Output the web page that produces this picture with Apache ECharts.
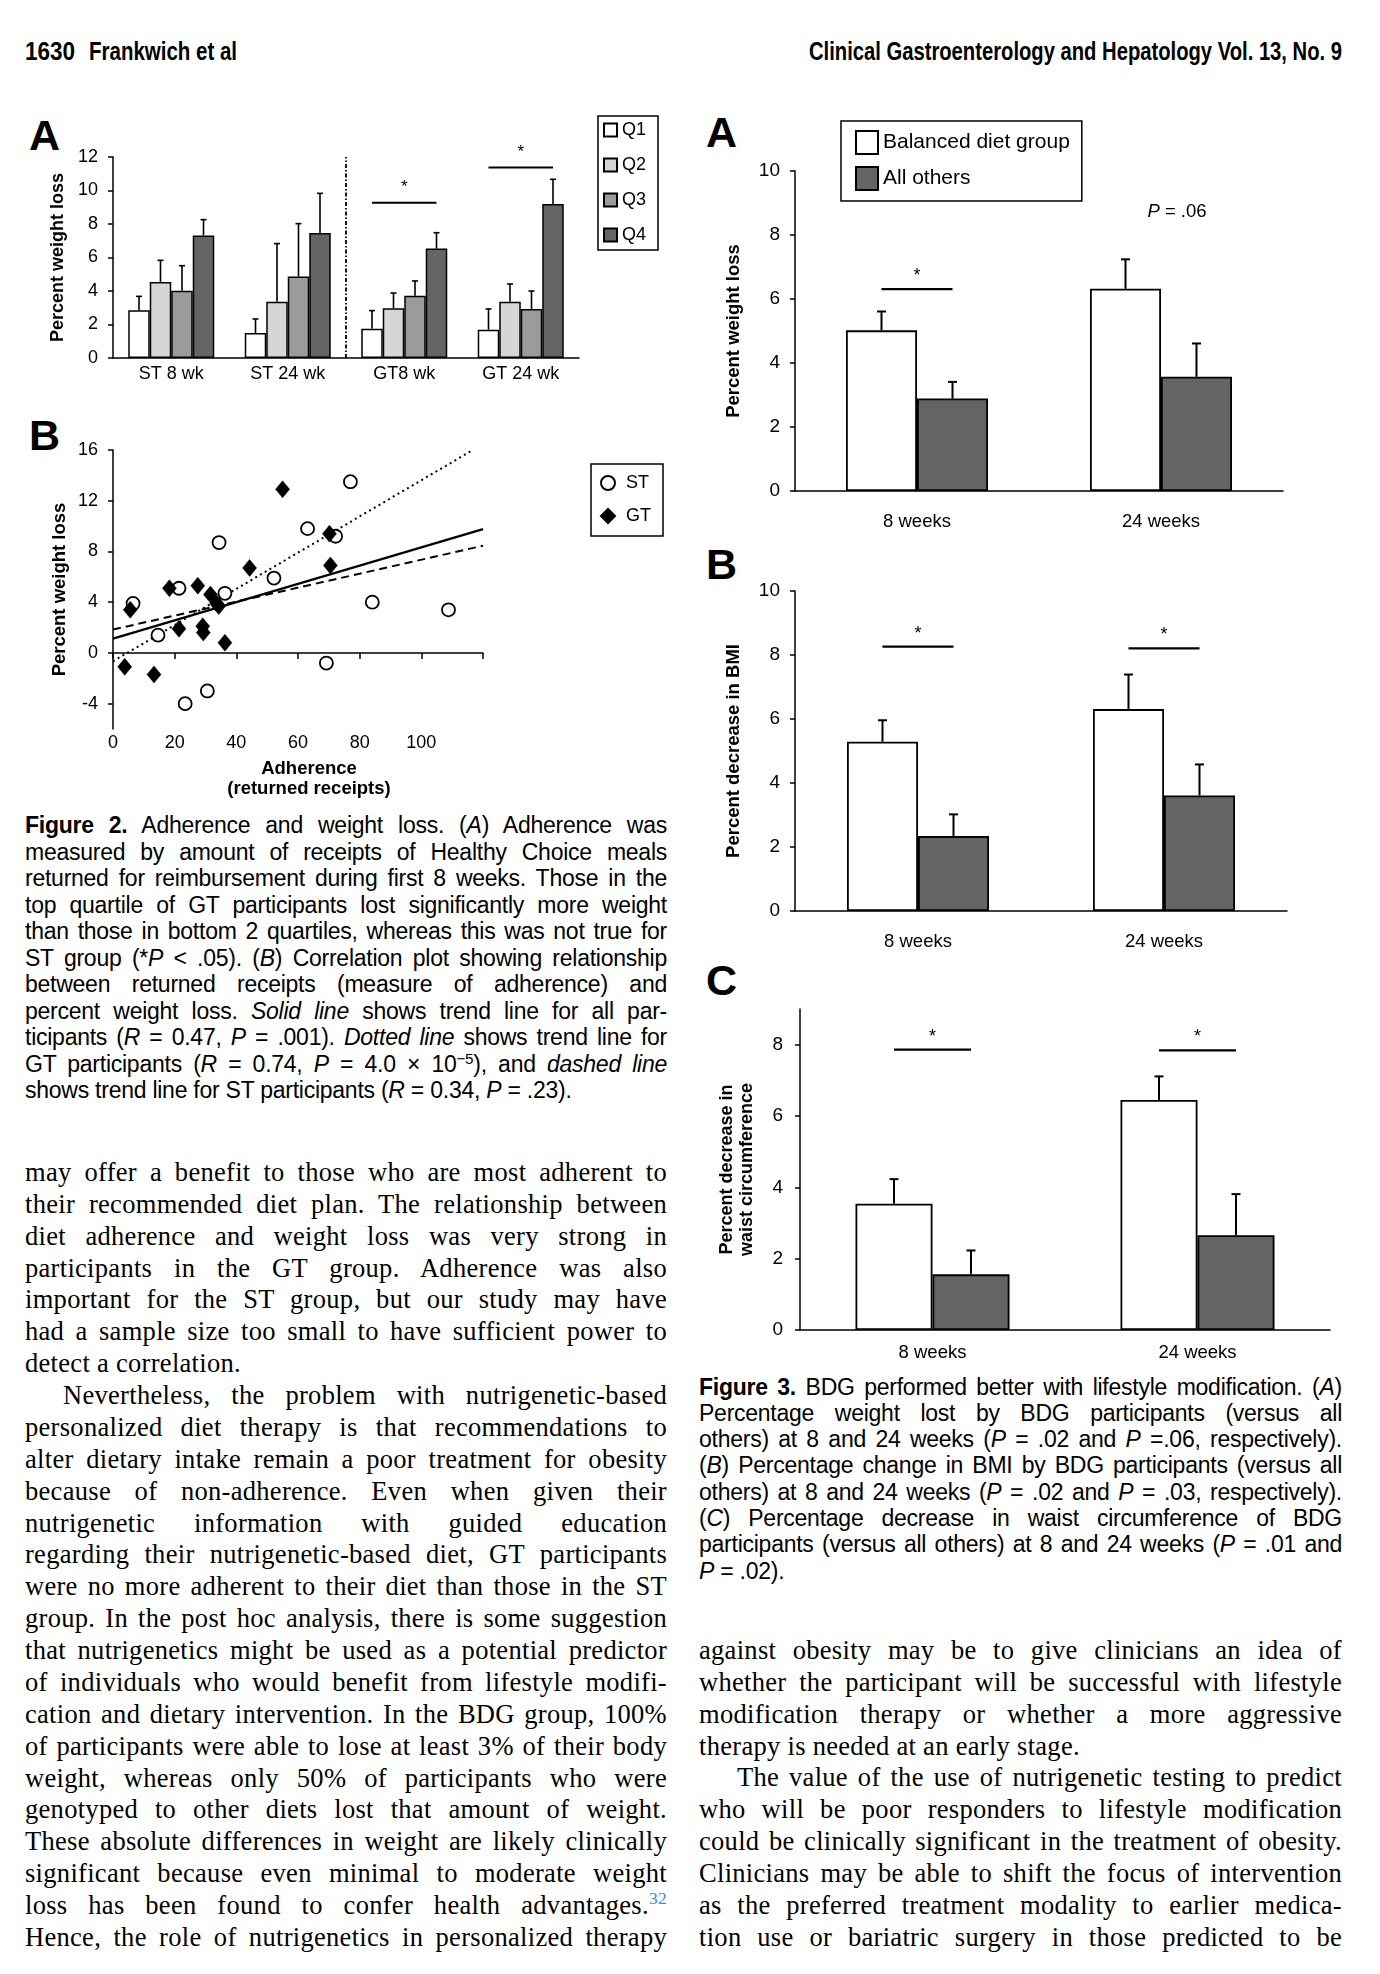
<!DOCTYPE html>
<html>
<head>
<meta charset="utf-8">
<script src="https://cdn.jsdelivr.net/npm/echarts@6/dist/echarts.min.js"></script>
<style>
html,body{margin:0;padding:0;background:#fff;}
#page{position:relative;width:1380px;height:1974px;overflow:hidden;background:#fff;}
#chart{position:absolute;left:0;top:0;width:1380px;height:1974px;z-index:2;}
.blk{position:absolute;color:#000;}
.ln{position:absolute;white-space:nowrap;}
.cap{font-family:'Liberation Sans',Arial,sans-serif;font-size:23px;letter-spacing:-0.25px;}
.body{font-family:'Liberation Serif','DejaVu Serif',serif;font-size:26.5px;letter-spacing:0.3px;}
.lbl{position:absolute;font-family:'Liberation Sans',Arial,sans-serif;font-weight:bold;font-size:43px;line-height:43px;color:#000;}
.hdr{position:absolute;font-family:'Liberation Sans',Arial,sans-serif;font-weight:bold;font-size:26px;line-height:30px;white-space:nowrap;transform-origin:0 50%;color:#000;}
sup{font-size:0.66em;line-height:0;vertical-align:0.55em;}
sup.ref{color:#3a8fd0;}
</style>
</head>
<body>
<div id="page">
  <div class="hdr" id="h1">1630</div>
  <div class="hdr" id="h2">Frankwich et al</div>
  <div class="hdr" id="h3">Clinical Gastroenterology and Hepatology Vol. 13, No. 9</div>
  <div class="lbl" style="left:29px;top:114px;">A</div>
  <div class="lbl" style="left:29px;top:414px;">B</div>
  <div class="lbl" style="left:706px;top:111px;">A</div>
  <div class="lbl" style="left:706px;top:543px;">B</div>
  <div class="lbl" style="left:706px;top:959px;">C</div>
  <div class="blk cap" id="cap2"></div>
  <div class="blk cap" id="cap3"></div>
  <div class="blk body" id="bodyL"></div>
  <div class="blk body" id="bodyR"></div>
  <div id="chart"></div>
</div>
<script>
// ---------------- DATA ----------------
// Figure 2A: percent weight loss by adherence quartile
const cats2A = ['ST 8 wk', 'ST 24 wk', 'GT8 wk', 'GT 24 wk'];
const q1Mean = [2.85, 1.49, 1.75, 1.69];
const q1Err  = [3.68, 2.33, 2.83, 2.93];
const q2Mean = [4.54, 3.36, 2.97, 3.36];
const q2Err  = [5.83, 6.83, 3.88, 4.42];
const q3Mean = [4.02, 4.86, 3.72, 2.93];
const q3Err  = [5.51, 8.02, 4.60, 4.00];
const q4Mean = [7.32, 7.46, 6.53, 9.19];
const q4Err  = [8.26, 9.83, 7.48, 10.67];
const sig2A  = [[2, 9.27], [3, 11.38]];

// Figure 2B: adherence (returned receipts) vs percent weight loss
const stPoints = [[6.5,3.9],[21.4,5.1],[14.6,1.4],[34.4,8.7],[36.3,4.7],[23.4,-4.0],[30.6,-3.0],
  [52.2,5.9],[63.1,9.8],[72.2,9.2],[77.0,13.5],[84.1,4.0],[69.2,-0.8],[108.8,3.4]];
const gtPoints = [[5.6,3.4],[3.8,-1.1],[13.3,-1.7],[18.3,5.1],[21.4,1.9],[27.5,5.3],[29.1,2.1],
  [29.3,1.6],[31.6,4.6],[33.6,3.9],[34.3,3.7],[36.3,0.8],[44.3,6.7],[55.0,12.9],[70.2,9.4],[70.5,6.9]];
const allTrend = [[0, 1.13], [120, 9.76]];
const stTrend  = [[0, 1.84], [120, 8.45]];
const gtTrend  = [[0, -0.66], [116, 15.9]];
const xLabels2B = [0, 20, 40, 60, 80, 100];
const xTicks2B  = [0, 20, 40, 60, 80, 100, 120];
const yTicks2B  = [-4, 0, 4, 8, 12, 16];

// Figure 3: BDG vs all others
const cats3 = ['8 weeks', '24 weeks'];
const bdgA = [5.02, 6.32], bdgAErr = [5.61, 7.24];
const othA = [2.89, 3.57], othAErr = [3.41, 4.61];
const sig3A = [[0, 6.31]];
const pNote3A = [[1, 8.72]];
const bdgB = [5.29, 6.31], bdgBErr = [5.96, 7.39];
const othB = [2.34, 3.61], othBErr = [3.02, 4.58];
const sig3B = [[0, 8.26], [1, 8.21]];
const bdgC = [3.54, 6.45], bdgCErr = [4.23, 7.11];
const othC = [1.56, 2.66], othCErr = [2.23, 3.81];
const sig3C = [[0, 7.86], [1, 7.84]];
const yTicks3C = [0, 2, 4, 6, 8];

// ---------------- TEXT ----------------
const cap2Lines = [
 '<b>Figure 2.</b> Adherence and weight loss. (<i>A</i>) Adherence was',
 'measured by amount of receipts of Healthy Choice meals',
 'returned for reimbursement during first 8 weeks. Those in the',
 'top quartile of GT participants lost significantly more weight',
 'than those in bottom 2 quartiles, whereas this was not true for',
 'ST group (*<i>P</i> &lt; .05). (<i>B</i>) Correlation plot showing relationship',
 'between returned receipts (measure of adherence) and',
 'percent weight loss. <i>Solid line</i> shows trend line for all par-',
 'ticipants (<i>R</i> = 0.47, <i>P</i> = .001). <i>Dotted line</i> shows trend line for',
 'GT participants (<i>R</i> = 0.74, <i>P</i> = 4.0 × 10<sup>−5</sup>), and <i>dashed line</i>',
 'shows trend line for ST participants (<i>R</i> = 0.34, <i>P</i> = .23).'
];
const cap3Lines = [
 '<b>Figure 3.</b> BDG performed better with lifestyle modification. (<i>A</i>)',
 'Percentage weight lost by BDG participants (versus all',
 'others) at 8 and 24 weeks (<i>P</i> = .02 and <i>P</i> =.06, respectively).',
 '(<i>B</i>) Percentage change in BMI by BDG participants (versus all',
 'others) at 8 and 24 weeks (<i>P</i> = .02 and <i>P</i> = .03, respectively).',
 '(<i>C</i>) Percentage decrease in waist circumference of BDG',
 'participants (versus all others) at 8 and 24 weeks (<i>P</i> = .01 and',
 '<i>P</i> = .02).'
];
const bodyLLines = [
 'may offer a benefit to those who are most adherent to',
 'their recommended diet plan. The relationship between',
 'diet adherence and weight loss was very strong in',
 'participants in the GT group. Adherence was also',
 'important for the ST group, but our study may have',
 'had a sample size too small to have sufficient power to',
 'detect a correlation.',
 'Nevertheless, the problem with nutrigenetic-based',
 'personalized diet therapy is that recommendations to',
 'alter dietary intake remain a poor treatment for obesity',
 'because of non-adherence. Even when given their',
 'nutrigenetic information with guided education',
 'regarding their nutrigenetic-based diet, GT participants',
 'were no more adherent to their diet than those in the ST',
 'group. In the post hoc analysis, there is some suggestion',
 'that nutrigenetics might be used as a potential predictor',
 'of individuals who would benefit from lifestyle modifi-',
 'cation and dietary intervention. In the BDG group, 100%',
 'of participants were able to lose at least 3% of their body',
 'weight, whereas only 50% of participants who were',
 'genotyped to other diets lost that amount of weight.',
 'These absolute differences in weight are likely clinically',
 'significant because even minimal to moderate weight',
 'loss has been found to confer health advantages.<sup class="ref">32</sup>',
 'Hence, the role of nutrigenetics in personalized therapy'
];
const bodyRLines = [
 'against obesity may be to give clinicians an idea of',
 'whether the participant will be successful with lifestyle',
 'modification therapy or whether a more aggressive',
 'therapy is needed at an early stage.',
 'The value of the use of nutrigenetic testing to predict',
 'who will be poor responders to lifestyle modification',
 'could be clinically significant in the treatment of obesity.',
 'Clinicians may be able to shift the focus of intervention',
 'as the preferred treatment modality to earlier medica-',
 'tion use or bariatric surgery in those predicted to be'
];

function layoutText(id, left, top, width, lh, lines, lastSet, indentSet, indent) {
  const c = document.getElementById(id);
  c.style.left = left + 'px'; c.style.top = top + 'px'; c.style.width = width + 'px';
  c.style.height = (lines.length * lh) + 'px';
  lines.forEach((h, i) => {
    const d = document.createElement('div');
    d.className = 'ln';
    const ind = indentSet.indexOf(i) >= 0 ? indent : 0;
    d.style.left = ind + 'px';
    d.style.top = (i * lh) + 'px';
    d.style.lineHeight = lh + 'px';
    d.innerHTML = h;
    c.appendChild(d);
    const avail = width - ind;
    let w = d.getBoundingClientRect().width;
    const txt = d.textContent;
    const nSp = (txt.match(/[ \u00a0]/g) || []).length;
    const baseLS = parseFloat(getComputedStyle(d).letterSpacing) || 0;
    if (w > avail - 0.5) {
      d.style.letterSpacing = (baseLS + (avail - 0.5 - w) / txt.length) + 'px';
      w = d.getBoundingClientRect().width;
    }
    if (lastSet.indexOf(i) < 0 && nSp > 0) {
      d.style.wordSpacing = ((avail - w) / nSp) + 'px';
    }
  });
}
function fitHeader(id, left, right, top) {
  const e = document.getElementById(id);
  e.style.left = left + 'px'; e.style.top = top + 'px';
  const w = e.getBoundingClientRect().width;
  e.style.transform = 'scaleX(' + ((right - left) / w) + ')';
}
fitHeader('h1', 25, 75, 36);
fitHeader('h2', 89, 237, 36);
fitHeader('h3', 809, 1342, 36);
layoutText('cap2', 25, 812, 642, 26.5, cap2Lines, [10], [], 0);
layoutText('cap3', 699, 1373.5, 643, 26.3, cap3Lines, [7], [], 0);
layoutText('bodyL', 25, 1157, 642, 31.87, bodyLLines, [6], [7], 38);
layoutText('bodyR', 699, 1635, 643, 31.87, bodyRLines, [3], [4], 38);

// ---------------- CHART ----------------
const FONT = 'Liberation Sans';
const BLACK = '#000';
const DARK = '#646464';
const chart = echarts.init(document.getElementById('chart'), null, {renderer: 'canvas'});

function errBars(xi, yi, means, errs, k, n, bw, cap, lw) {
  return {
    type: 'custom', xAxisIndex: xi, yAxisIndex: yi, z: 5, silent: true,
    data: means.map((m, i) => [i, m, errs[i]]),
    renderItem: function (p, api) {
      const a = api.coord([api.value(0), api.value(1)]);
      const b = api.coord([api.value(0), api.value(2)]);
      const x = a[0] + (k - (n - 1) / 2) * bw;
      return {type: 'group', children: [
        {type: 'line', shape: {x1: x, y1: a[1], x2: x, y2: b[1]}, style: {stroke: BLACK, lineWidth: lw}},
        {type: 'line', shape: {x1: x - cap / 2, y1: b[1], x2: x + cap / 2, y2: b[1]}, style: {stroke: BLACK, lineWidth: lw}}
      ]};
    }
  };
}
function sigLines(xi, yi, items, n, bw, starOff, fs, lw) {
  return {
    type: 'custom', xAxisIndex: xi, yAxisIndex: yi, z: 6, silent: true,
    data: items,
    renderItem: function (p, api) {
      const c = api.coord([api.value(0), api.value(1)]);
      const half = (n - 1) / 2 * bw;
      return {type: 'group', children: [
        {type: 'line', shape: {x1: c[0] - half, y1: c[1], x2: c[0] + half, y2: c[1]}, style: {stroke: BLACK, lineWidth: lw}},
        {type: 'text', style: {text: '*', x: c[0], y: c[1] - starOff, fill: BLACK, fontSize: fs, fontFamily: FONT, align: 'center', verticalAlign: 'middle'}}
      ]};
    }
  };
}
function barS(name, xi, yi, data, color, bw, bwid) {
  return {type: 'bar', name: name, xAxisIndex: xi, yAxisIndex: yi, data: data, barWidth: bw, barGap: '0%',
    itemStyle: {color: color, borderColor: BLACK, borderWidth: bwid}, z: 3, silent: true};
}
function valY(gi, min, max, interval, fs, name, nameGap, nameFs, margin, custom) {
  const ax = {
    gridIndex: gi, type: 'value', min: min, max: max, interval: interval,
    axisLine: {show: true, onZero: false, lineStyle: {color: BLACK, width: 1.5}},
    axisTick: {show: true, length: 5, lineStyle: {color: BLACK, width: 1.5}},
    axisLabel: {color: BLACK, fontSize: fs, fontFamily: FONT, margin: margin},
    splitLine: {show: false},
    name: name, nameLocation: 'middle', nameGap: nameGap, nameRotate: 90,
    nameTextStyle: {fontSize: nameFs, fontWeight: 'bold', color: BLACK, fontFamily: FONT, lineHeight: 20}
  };
  if (custom) {
    ax.axisLabel.customValues = custom;
    ax.axisTick.customValues = custom;
    ax.axisLabel.formatter = function (v) { return custom.indexOf(v) >= 0 ? String(v) : ''; };
  }
  return ax;
}
function catX(gi, data, fs, margin) {
  return {gridIndex: gi, type: 'category', data: data,
    axisLine: {show: true, lineStyle: {color: BLACK, width: 1.5}},
    axisTick: {show: false},
    axisLabel: {color: BLACK, fontSize: fs, fontFamily: FONT, margin: margin, interval: 0},
    splitLine: {show: false}};
}

const BW2A = 21.5, BW3 = 71, BW3C = 77;

const option = {
  animation: false,
  backgroundColor: 'transparent',
  textStyle: {fontFamily: FONT, color: BLACK},
  grid: [
    {left: 113, top: 157, width: 466, height: 201, outerBoundsMode: 'none'},
    {left: 113, top: 450, width: 370, height: 279, outerBoundsMode: 'none'},
    {left: 795, top: 171, width: 488, height: 320, outerBoundsMode: 'none'},
    {left: 795, top: 591, width: 492, height: 320, outerBoundsMode: 'none'},
    {left: 800, top: 1009, width: 530, height: 321, outerBoundsMode: 'none'}
  ],
  legend: [
    {data: ['Q1', 'Q2', 'Q3', 'Q4'], orient: 'vertical', left: 598, top: 116, icon: 'rect',
     itemWidth: 13, itemHeight: 13, itemGap: 17, padding: [5, 12, 6, 5], borderColor: BLACK, borderWidth: 1.5,
     selectedMode: false, textStyle: {fontSize: 18, color: BLACK, fontFamily: FONT}},
    {data: ['ST', 'GT'], orient: 'vertical', left: 591, top: 464,
     itemWidth: 14, itemHeight: 14, itemGap: 15, padding: [10, 12, 11, 9], borderColor: BLACK, borderWidth: 1.5,
     selectedMode: false, textStyle: {fontSize: 18, color: BLACK, fontFamily: FONT, padding: [0, 0, 0, 6]}},
    {data: ['Balanced diet group', 'All others'], orient: 'vertical', left: 841, top: 121, icon: 'rect',
     itemWidth: 22, itemHeight: 23, itemGap: 11, padding: [9, 12, 10, 14], borderColor: BLACK, borderWidth: 1.5,
     selectedMode: false, textStyle: {fontSize: 21, color: BLACK, fontFamily: FONT}}
  ],
  xAxis: [
    catX(0, cats2A, 18, 7),
    {gridIndex: 1, type: 'value', min: 0, max: 120, interval: 20,
     axisLine: {show: true, onZero: true, lineStyle: {color: BLACK, width: 1.5}},
     axisTick: {show: true, length: 6, customValues: xTicks2B, lineStyle: {color: BLACK, width: 1.5}},
     axisLabel: {color: BLACK, fontSize: 18, fontFamily: FONT, margin: 5, customValues: xLabels2B,
       formatter: function (v) { return xLabels2B.indexOf(v) >= 0 ? String(v) : ''; }},
     splitLine: {show: false},
     name: 'Adherence\n(returned receipts)', nameLocation: 'middle', nameGap: 30,
     nameTextStyle: {fontSize: 18.5, fontWeight: 'bold', color: BLACK, fontFamily: FONT, lineHeight: 20, padding: [0, 0, 0, 22]}},
    catX(2, cats3, 18.5, 21),
    catX(3, cats3, 18.5, 21),
    catX(4, cats3, 18.5, 13)
  ],
  yAxis: [
    valY(0, 0, 12, 2, 18, 'Percent weight loss', 45, 18, 15),
    valY(1, -6, 16, 2, 18, 'Percent weight loss', 43, 18.5, 15, yTicks2B),
    valY(2, 0, 10, 2, 19, 'Percent weight loss', 51, 18.5, 15),
    valY(3, 0, 10, 2, 19, 'Percent decrease in BMI', 51, 18.5, 15),
    valY(4, 0, 9, 1, 19, 'Percent decrease in\nwaist circumference', 43, 18, 17, yTicks3C)
  ],
  series: [
    // Fig 2A
    barS('Q1', 0, 0, q1Mean, '#ffffff', BW2A, 1.5),
    barS('Q2', 0, 0, q2Mean, '#d6d6d6', BW2A, 1.5),
    barS('Q3', 0, 0, q3Mean, '#9b9b9b', BW2A, 1.5),
    barS('Q4', 0, 0, q4Mean, DARK, BW2A, 1.5),
    errBars(0, 0, q1Mean, q1Err, 0, 4, BW2A, 6, 1.6),
    errBars(0, 0, q2Mean, q2Err, 1, 4, BW2A, 6, 1.6),
    errBars(0, 0, q3Mean, q3Err, 2, 4, BW2A, 6, 1.6),
    errBars(0, 0, q4Mean, q4Err, 3, 4, BW2A, 6, 1.6),
    sigLines(0, 0, sig2A, 4, BW2A, 15, 17, 2),
    {type: 'custom', xAxisIndex: 0, yAxisIndex: 0, z: 4, silent: true, data: [[1, 0, 12]],
     renderItem: function (p, api) {
       const a = api.coord([api.value(0), api.value(1)]);
       const b = api.coord([api.value(0), api.value(2)]);
       const x = a[0] + api.size([1, 0])[0] / 2;
       return {type: 'line', shape: {x1: x, y1: a[1], x2: x, y2: b[1]},
         style: {stroke: BLACK, lineWidth: 1.8, lineDash: [4, 2, 1.5, 2]}};
     }},
    // Fig 2B
    {type: 'line', name: 'All trend', xAxisIndex: 1, yAxisIndex: 1, data: allTrend, symbol: 'none', z: 3, silent: true,
     lineStyle: {color: BLACK, width: 2.2, type: 'solid'}},
    {type: 'line', name: 'ST trend', xAxisIndex: 1, yAxisIndex: 1, data: stTrend, symbol: 'none', z: 3, silent: true,
     lineStyle: {color: BLACK, width: 2, type: [8, 5]}},
    {type: 'line', name: 'GT trend', xAxisIndex: 1, yAxisIndex: 1, data: gtTrend, symbol: 'none', z: 3, silent: true,
     lineStyle: {color: BLACK, width: 2, type: [2, 3.5]}},
    {type: 'scatter', name: 'ST', xAxisIndex: 1, yAxisIndex: 1, data: stPoints, symbol: 'circle', symbolSize: 13, z: 5, silent: true,
     itemStyle: {color: '#ffffff', borderColor: BLACK, borderWidth: 1.8, opacity: 1}},
    {type: 'scatter', name: 'GT', xAxisIndex: 1, yAxisIndex: 1, data: gtPoints, symbol: 'diamond', symbolSize: [14, 17], z: 6, silent: true,
     itemStyle: {color: BLACK, borderColor: BLACK, borderWidth: 0.5, opacity: 1}},
    // Fig 3A
    barS('Balanced diet group', 2, 2, bdgA, '#ffffff', BW3, 1.8),
    barS('All others', 2, 2, othA, DARK, BW3, 1.8),
    errBars(2, 2, bdgA, bdgAErr, 0, 2, BW3, 9, 2),
    errBars(2, 2, othA, othAErr, 1, 2, BW3, 9, 2),
    sigLines(2, 2, sig3A, 2, BW3, 13, 18, 2.2),
    {type: 'custom', xAxisIndex: 2, yAxisIndex: 2, z: 6, silent: true, data: pNote3A,
     renderItem: function (p, api) {
       const c = api.coord([api.value(0), api.value(1)]);
       return {type: 'text', style: {text: '{i|P} = .06', x: c[0] + 16, y: c[1], fill: BLACK, fontSize: 18.5, fontFamily: FONT,
         align: 'center', verticalAlign: 'middle',
         rich: {i: {fontStyle: 'italic', fontSize: 18.5, fontFamily: FONT, fill: BLACK}}}};
     }},
    // Fig 3B
    barS('Balanced diet group', 3, 3, bdgB, '#ffffff', BW3, 1.8),
    barS('All others', 3, 3, othB, DARK, BW3, 1.8),
    errBars(3, 3, bdgB, bdgBErr, 0, 2, BW3, 9, 2),
    errBars(3, 3, othB, othBErr, 1, 2, BW3, 9, 2),
    sigLines(3, 3, sig3B, 2, BW3, 13, 18, 2.2),
    // Fig 3C
    barS('Balanced diet group', 4, 4, bdgC, '#ffffff', BW3C, 1.8),
    barS('All others', 4, 4, othC, DARK, BW3C, 1.8),
    errBars(4, 4, bdgC, bdgCErr, 0, 2, BW3C, 9, 2),
    errBars(4, 4, othC, othCErr, 1, 2, BW3C, 9, 2),
    sigLines(4, 4, sig3C, 2, BW3C, 13, 18, 2.2)
  ]
};
chart.setOption(option);
</script>
</body>
</html>
